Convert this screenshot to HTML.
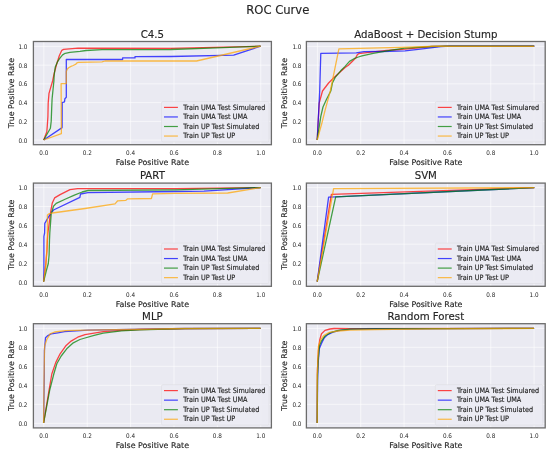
<!DOCTYPE html><html><head><meta charset="utf-8"><title>ROC Curve</title><style>html,body{margin:0;padding:0;background:#fff;}svg{display:block;}text{stroke:#262626;stroke-width:0.15px;}text.t{stroke:none;}</style></head><body>
<svg width="550" height="453" viewBox="0 0 550 453" font-family="'DejaVu Sans', 'Liberation Sans', sans-serif">
<rect x="0" y="0" width="550" height="453" fill="#ffffff"/>
<text x="277.8" y="13.8" font-size="11.6" fill="#262626" text-anchor="middle">ROC Curve</text>
<defs>
<clipPath id="cp0"><rect x="33.4" y="41.5" width="238" height="103.2"/></clipPath>
<clipPath id="cp1"><rect x="306.4" y="41.5" width="238.8" height="103.2"/></clipPath>
<clipPath id="cp2"><rect x="33.4" y="183.1" width="238" height="103.2"/></clipPath>
<clipPath id="cp3"><rect x="306.4" y="183.1" width="238.8" height="103.2"/></clipPath>
<clipPath id="cp4"><rect x="33.4" y="323.7" width="238" height="104.2"/></clipPath>
<clipPath id="cp5"><rect x="306.4" y="323.7" width="238.8" height="104.2"/></clipPath>
</defs>
<g>
<rect x="33.4" y="41.5" width="238" height="103.2" fill="#eaeaf2"/>
<path d="M43.85 41.5V144.7M33.4 140.1H271.4M87.23 41.5V144.7M33.4 121.36H271.4M130.61 41.5V144.7M33.4 102.62H271.4M173.99 41.5V144.7M33.4 83.88H271.4M217.37 41.5V144.7M33.4 65.14H271.4M260.75 41.5V144.7M33.4 46.4H271.4" stroke="#ffffff" stroke-width="1" stroke-opacity="0.6" fill="none"/>
<g clip-path="url(#cp0)" fill="none" stroke-width="1.3" stroke-linejoin="round" stroke-linecap="butt" stroke-opacity="0.72">
<polyline points="43.7,140 46.8,131.8 47.3,125.7 47.9,116.8 48.2,103 49,93.4 52.6,81 54.3,72.8 56.5,64.8 59.2,56 61.8,50.3 63.6,49.4 78,48.2 171,48.3 260.6,46.2" stroke="#ff0000"/>
<polyline points="43.7,140 62.1,127.6 62.2,102.6 64.5,101.8 64.9,98.7 66.3,97.3 66.3,59.5 122.6,59.5 122.6,57.9 135,57.9 135,56.6 171,56.5 233.7,55.2 260.6,46.2" stroke="#0000ff"/>
<polyline points="43.7,140 50.4,128.3 51.2,121.2 51.7,108 52.1,98.7 53.9,81 54.2,75 55.3,66.9 57.3,62.2 59.9,58.2 62.6,54.9 65.2,53.3 69.9,52.3 80,51.3 86,50.5 102,49.7 171,49.5 216.5,47.9 260.6,46.2" stroke="#008000"/>
<polyline points="43.7,140 61.4,133.6 61.1,83.6 66.3,83.6 66.3,71.5 67.2,69.3 68.6,67.7 71,66.4 73.2,65.5 75.9,64.2 76.9,62.9 78.5,62.4 102,61.9 105,61 196.5,61 260.6,46.2" stroke="#ffa500"/>
</g>
<rect x="161.5" y="101.5" width="107.5" height="40.4" fill="#ebebf3" fill-opacity="0.9" stroke="#dadade" stroke-width="0.5" rx="1.5"/>
<line x1="164" x2="177.9" y1="107.4" y2="107.4" stroke="#ff0000" stroke-opacity="0.72" stroke-width="1.2"/>
<text transform="translate(183.3 109.5) scale(1 1.12)" font-size="6.5" fill="#262626">Train UMA Test Simulared</text>
<line x1="164" x2="177.9" y1="116.95" y2="116.95" stroke="#0000ff" stroke-opacity="0.72" stroke-width="1.2"/>
<text transform="translate(183.3 119.05) scale(1 1.12)" font-size="6.5" fill="#262626">Train UMA Test UMA</text>
<line x1="164" x2="177.9" y1="126.5" y2="126.5" stroke="#008000" stroke-opacity="0.72" stroke-width="1.2"/>
<text transform="translate(183.3 128.6) scale(1 1.12)" font-size="6.5" fill="#262626">Train UP Test Simulated</text>
<line x1="164" x2="177.9" y1="136.05" y2="136.05" stroke="#ffa500" stroke-opacity="0.72" stroke-width="1.2"/>
<text transform="translate(183.3 138.15) scale(1 1.12)" font-size="6.5" fill="#262626">Train UP Test UP</text>
<rect x="33.4" y="41.5" width="238" height="103.2" fill="none" stroke="#6c6c6c" stroke-width="1.3"/>
<text class="t" transform="translate(43.85 154.9) scale(1 1.1)" font-size="5.7" fill="#262626" text-anchor="middle">0.0</text>
<text class="t" transform="translate(27.5 142.7) scale(1 1.1)" font-size="5.7" fill="#262626" text-anchor="end">0.0</text>
<text class="t" transform="translate(87.23 154.9) scale(1 1.1)" font-size="5.7" fill="#262626" text-anchor="middle">0.2</text>
<text class="t" transform="translate(27.5 123.96) scale(1 1.1)" font-size="5.7" fill="#262626" text-anchor="end">0.2</text>
<text class="t" transform="translate(130.61 154.9) scale(1 1.1)" font-size="5.7" fill="#262626" text-anchor="middle">0.4</text>
<text class="t" transform="translate(27.5 105.22) scale(1 1.1)" font-size="5.7" fill="#262626" text-anchor="end">0.4</text>
<text class="t" transform="translate(173.99 154.9) scale(1 1.1)" font-size="5.7" fill="#262626" text-anchor="middle">0.6</text>
<text class="t" transform="translate(27.5 86.48) scale(1 1.1)" font-size="5.7" fill="#262626" text-anchor="end">0.6</text>
<text class="t" transform="translate(217.37 154.9) scale(1 1.1)" font-size="5.7" fill="#262626" text-anchor="middle">0.8</text>
<text class="t" transform="translate(27.5 67.74) scale(1 1.1)" font-size="5.7" fill="#262626" text-anchor="end">0.8</text>
<text class="t" transform="translate(260.75 154.9) scale(1 1.1)" font-size="5.7" fill="#262626" text-anchor="middle">1.0</text>
<text class="t" transform="translate(27.5 49) scale(1 1.1)" font-size="5.7" fill="#262626" text-anchor="end">1.0</text>
<text x="152.4" y="165" font-size="7.9" fill="#262626" text-anchor="middle">False Positive Rate</text>
<text x="14.1" y="93.1" font-size="7.9" fill="#262626" text-anchor="middle" transform="rotate(-90 14.1 93.1)">True Positive Rate</text>
<text x="152.4" y="37.5" font-size="10.2" fill="#262626" text-anchor="middle">C4.5</text>
</g>
<g>
<rect x="306.4" y="41.5" width="238.8" height="103.2" fill="#eaeaf2"/>
<path d="M317.4 41.5V144.7M306.4 140.1H545.2M360.74 41.5V144.7M306.4 121.36H545.2M404.08 41.5V144.7M306.4 102.62H545.2M447.42 41.5V144.7M306.4 83.88H545.2M490.76 41.5V144.7M306.4 65.14H545.2M534.1 41.5V144.7M306.4 46.4H545.2" stroke="#ffffff" stroke-width="1" stroke-opacity="0.6" fill="none"/>
<g clip-path="url(#cp1)" fill="none" stroke-width="1.3" stroke-linejoin="round" stroke-linecap="butt" stroke-opacity="0.72">
<polyline points="317.2,140 319.2,103.1 322.5,91 328.6,83 334.1,77.4 339.6,72.5 345.1,67.5 348.4,65.3 351.7,62 355.6,58.1 357.3,54.8 358.6,53.7 373.2,51.9 386.8,50.5 405,49.2 431.8,46.5 445,46.2 534.3,46.2" stroke="#ff0000"/>
<polyline points="317.2,140 319.7,91 320.8,53.3 356.2,52.9 364,51.7 382.3,51.5 405,50.8 418.2,49.4 440.9,46.6 450,46.2 534.3,46.2" stroke="#0000ff"/>
<polyline points="317.2,140 320.8,116.4 323,107 326.3,99.8 330.8,91 332.4,83 335.2,77.4 340.7,70.8 345.1,66.4 349.5,61.4 354,58.7 358.4,57 362,55.9 373.2,53.3 391.4,50.1 405,48.1 431.8,46.5 445,46.2 534.3,46.2" stroke="#008000"/>
<polyline points="317.2,140 321.9,123 325.2,109.8 330.3,91 338.9,48.8 400,47.4 430,46.4 534.1,46.4" stroke="#ffa500"/>
</g>
<rect x="435.3" y="101.5" width="107.5" height="40.4" fill="#ebebf3" fill-opacity="0.9" stroke="#dadade" stroke-width="0.5" rx="1.5"/>
<line x1="437.8" x2="451.7" y1="107.4" y2="107.4" stroke="#ff0000" stroke-opacity="0.72" stroke-width="1.2"/>
<text transform="translate(457.1 109.5) scale(1 1.12)" font-size="6.5" fill="#262626">Train UMA Test Simulared</text>
<line x1="437.8" x2="451.7" y1="116.95" y2="116.95" stroke="#0000ff" stroke-opacity="0.72" stroke-width="1.2"/>
<text transform="translate(457.1 119.05) scale(1 1.12)" font-size="6.5" fill="#262626">Train UMA Test UMA</text>
<line x1="437.8" x2="451.7" y1="126.5" y2="126.5" stroke="#008000" stroke-opacity="0.72" stroke-width="1.2"/>
<text transform="translate(457.1 128.6) scale(1 1.12)" font-size="6.5" fill="#262626">Train UP Test Simulated</text>
<line x1="437.8" x2="451.7" y1="136.05" y2="136.05" stroke="#ffa500" stroke-opacity="0.72" stroke-width="1.2"/>
<text transform="translate(457.1 138.15) scale(1 1.12)" font-size="6.5" fill="#262626">Train UP Test UP</text>
<rect x="306.4" y="41.5" width="238.8" height="103.2" fill="none" stroke="#6c6c6c" stroke-width="1.3"/>
<text class="t" transform="translate(317.4 154.9) scale(1 1.1)" font-size="5.7" fill="#262626" text-anchor="middle">0.0</text>
<text class="t" transform="translate(301.5 142.7) scale(1 1.1)" font-size="5.7" fill="#262626" text-anchor="end">0.0</text>
<text class="t" transform="translate(360.74 154.9) scale(1 1.1)" font-size="5.7" fill="#262626" text-anchor="middle">0.2</text>
<text class="t" transform="translate(301.5 123.96) scale(1 1.1)" font-size="5.7" fill="#262626" text-anchor="end">0.2</text>
<text class="t" transform="translate(404.08 154.9) scale(1 1.1)" font-size="5.7" fill="#262626" text-anchor="middle">0.4</text>
<text class="t" transform="translate(301.5 105.22) scale(1 1.1)" font-size="5.7" fill="#262626" text-anchor="end">0.4</text>
<text class="t" transform="translate(447.42 154.9) scale(1 1.1)" font-size="5.7" fill="#262626" text-anchor="middle">0.6</text>
<text class="t" transform="translate(301.5 86.48) scale(1 1.1)" font-size="5.7" fill="#262626" text-anchor="end">0.6</text>
<text class="t" transform="translate(490.76 154.9) scale(1 1.1)" font-size="5.7" fill="#262626" text-anchor="middle">0.8</text>
<text class="t" transform="translate(301.5 67.74) scale(1 1.1)" font-size="5.7" fill="#262626" text-anchor="end">0.8</text>
<text class="t" transform="translate(534.1 154.9) scale(1 1.1)" font-size="5.7" fill="#262626" text-anchor="middle">1.0</text>
<text class="t" transform="translate(301.5 49) scale(1 1.1)" font-size="5.7" fill="#262626" text-anchor="end">1.0</text>
<text x="425.8" y="165" font-size="7.9" fill="#262626" text-anchor="middle">False Positive Rate</text>
<text x="287.4" y="93.1" font-size="7.9" fill="#262626" text-anchor="middle" transform="rotate(-90 287.4 93.1)">True Positive Rate</text>
<text x="425.8" y="37.5" font-size="10.2" fill="#262626" text-anchor="middle">AdaBoost + Decision Stump</text>
</g>
<g>
<rect x="33.4" y="183.1" width="238" height="103.2" fill="#eaeaf2"/>
<path d="M43.85 183.1V286.3M33.4 281.9H271.4M87.23 183.1V286.3M33.4 263.04H271.4M130.61 183.1V286.3M33.4 244.18H271.4M173.99 183.1V286.3M33.4 225.32H271.4M217.37 183.1V286.3M33.4 206.46H271.4M260.75 183.1V286.3M33.4 187.6H271.4" stroke="#ffffff" stroke-width="1" stroke-opacity="0.6" fill="none"/>
<g clip-path="url(#cp2)" fill="none" stroke-width="1.3" stroke-linejoin="round" stroke-linecap="butt" stroke-opacity="0.72">
<polyline points="43.6,281.6 45.8,264.3 47,249.7 47.4,240 47.9,233 50.7,211.7 52.3,202.9 54.6,197.9 60.1,194.6 70,189.6 77.7,188.7 88,188.6 175,188.6 260.6,187.6" stroke="#ff0000"/>
<polyline points="43.6,281.6 43.9,270 43.9,236.3 44.6,233 44.8,223.3 49,216.1 53.5,210 79.9,197.3 80.5,194 88,192.7 175,191.5 204,191.2 260.6,187.6" stroke="#0000ff"/>
<polyline points="43.6,281.6 46.5,270 48.3,263.5 49.1,255 49.5,240 49.8,233 51.2,213.9 53.5,206.2 56.2,203.4 65.6,199 74.4,195.1 82.2,192 88,190.5 175,189.9 260.6,187.6" stroke="#008000"/>
<polyline points="43.6,281.6 45.8,264.3 46.9,249.7 47.2,240 47.4,233 47.4,215 49,213.9 52.3,213 85,208.5 115,203.9 117.7,200.8 125.9,200.3 127.7,198.8 151.4,198.5 152.6,193.9 175,193.4 227.7,193 260.6,187.6" stroke="#ffa500"/>
</g>
<rect x="161.5" y="243.1" width="107.5" height="40.4" fill="#ebebf3" fill-opacity="0.9" stroke="#dadade" stroke-width="0.5" rx="1.5"/>
<line x1="164" x2="177.9" y1="249" y2="249" stroke="#ff0000" stroke-opacity="0.72" stroke-width="1.2"/>
<text transform="translate(183.3 251.1) scale(1 1.12)" font-size="6.5" fill="#262626">Train UMA Test Simulared</text>
<line x1="164" x2="177.9" y1="258.55" y2="258.55" stroke="#0000ff" stroke-opacity="0.72" stroke-width="1.2"/>
<text transform="translate(183.3 260.65) scale(1 1.12)" font-size="6.5" fill="#262626">Train UMA Test UMA</text>
<line x1="164" x2="177.9" y1="268.1" y2="268.1" stroke="#008000" stroke-opacity="0.72" stroke-width="1.2"/>
<text transform="translate(183.3 270.2) scale(1 1.12)" font-size="6.5" fill="#262626">Train UP Test Simulated</text>
<line x1="164" x2="177.9" y1="277.65" y2="277.65" stroke="#ffa500" stroke-opacity="0.72" stroke-width="1.2"/>
<text transform="translate(183.3 279.75) scale(1 1.12)" font-size="6.5" fill="#262626">Train UP Test UP</text>
<rect x="33.4" y="183.1" width="238" height="103.2" fill="none" stroke="#6c6c6c" stroke-width="1.3"/>
<text class="t" transform="translate(43.85 296.5) scale(1 1.1)" font-size="5.7" fill="#262626" text-anchor="middle">0.0</text>
<text class="t" transform="translate(27.5 284.5) scale(1 1.1)" font-size="5.7" fill="#262626" text-anchor="end">0.0</text>
<text class="t" transform="translate(87.23 296.5) scale(1 1.1)" font-size="5.7" fill="#262626" text-anchor="middle">0.2</text>
<text class="t" transform="translate(27.5 265.64) scale(1 1.1)" font-size="5.7" fill="#262626" text-anchor="end">0.2</text>
<text class="t" transform="translate(130.61 296.5) scale(1 1.1)" font-size="5.7" fill="#262626" text-anchor="middle">0.4</text>
<text class="t" transform="translate(27.5 246.78) scale(1 1.1)" font-size="5.7" fill="#262626" text-anchor="end">0.4</text>
<text class="t" transform="translate(173.99 296.5) scale(1 1.1)" font-size="5.7" fill="#262626" text-anchor="middle">0.6</text>
<text class="t" transform="translate(27.5 227.92) scale(1 1.1)" font-size="5.7" fill="#262626" text-anchor="end">0.6</text>
<text class="t" transform="translate(217.37 296.5) scale(1 1.1)" font-size="5.7" fill="#262626" text-anchor="middle">0.8</text>
<text class="t" transform="translate(27.5 209.06) scale(1 1.1)" font-size="5.7" fill="#262626" text-anchor="end">0.8</text>
<text class="t" transform="translate(260.75 296.5) scale(1 1.1)" font-size="5.7" fill="#262626" text-anchor="middle">1.0</text>
<text class="t" transform="translate(27.5 190.2) scale(1 1.1)" font-size="5.7" fill="#262626" text-anchor="end">1.0</text>
<text x="152.4" y="306.6" font-size="7.9" fill="#262626" text-anchor="middle">False Positive Rate</text>
<text x="14.1" y="234.7" font-size="7.9" fill="#262626" text-anchor="middle" transform="rotate(-90 14.1 234.7)">True Positive Rate</text>
<text x="152.4" y="179.1" font-size="10.2" fill="#262626" text-anchor="middle">PART</text>
</g>
<g>
<rect x="306.4" y="183.1" width="238.8" height="103.2" fill="#eaeaf2"/>
<path d="M317.4 183.1V286.3M306.4 281.9H545.2M360.74 183.1V286.3M306.4 263.04H545.2M404.08 183.1V286.3M306.4 244.18H545.2M447.42 183.1V286.3M306.4 225.32H545.2M490.76 183.1V286.3M306.4 206.46H545.2M534.1 183.1V286.3M306.4 187.6H545.2" stroke="#ffffff" stroke-width="1" stroke-opacity="0.6" fill="none"/>
<g clip-path="url(#cp3)" fill="none" stroke-width="1.3" stroke-linejoin="round" stroke-linecap="butt" stroke-opacity="0.72">
<polyline points="317.2,281.6 331.4,194.3 534.3,187.6" stroke="#ff0000"/>
<polyline points="317.2,281.6 328.6,197.2 335.7,196.9 534.3,187.6" stroke="#0000ff"/>
<polyline points="317.2,281.6 335.7,196.9 534.3,187.6" stroke="#008000"/>
<polyline points="317.2,281.6 333.6,188.7 534.3,187.6" stroke="#ffa500"/>
</g>
<rect x="435.3" y="243.1" width="107.5" height="40.4" fill="#ebebf3" fill-opacity="0.9" stroke="#dadade" stroke-width="0.5" rx="1.5"/>
<line x1="437.8" x2="451.7" y1="249" y2="249" stroke="#ff0000" stroke-opacity="0.72" stroke-width="1.2"/>
<text transform="translate(457.1 251.1) scale(1 1.12)" font-size="6.5" fill="#262626">Train UMA Test Simulared</text>
<line x1="437.8" x2="451.7" y1="258.55" y2="258.55" stroke="#0000ff" stroke-opacity="0.72" stroke-width="1.2"/>
<text transform="translate(457.1 260.65) scale(1 1.12)" font-size="6.5" fill="#262626">Train UMA Test UMA</text>
<line x1="437.8" x2="451.7" y1="268.1" y2="268.1" stroke="#008000" stroke-opacity="0.72" stroke-width="1.2"/>
<text transform="translate(457.1 270.2) scale(1 1.12)" font-size="6.5" fill="#262626">Train UP Test Simulated</text>
<line x1="437.8" x2="451.7" y1="277.65" y2="277.65" stroke="#ffa500" stroke-opacity="0.72" stroke-width="1.2"/>
<text transform="translate(457.1 279.75) scale(1 1.12)" font-size="6.5" fill="#262626">Train UP Test UP</text>
<rect x="306.4" y="183.1" width="238.8" height="103.2" fill="none" stroke="#6c6c6c" stroke-width="1.3"/>
<text class="t" transform="translate(317.4 296.5) scale(1 1.1)" font-size="5.7" fill="#262626" text-anchor="middle">0.0</text>
<text class="t" transform="translate(301.5 284.5) scale(1 1.1)" font-size="5.7" fill="#262626" text-anchor="end">0.0</text>
<text class="t" transform="translate(360.74 296.5) scale(1 1.1)" font-size="5.7" fill="#262626" text-anchor="middle">0.2</text>
<text class="t" transform="translate(301.5 265.64) scale(1 1.1)" font-size="5.7" fill="#262626" text-anchor="end">0.2</text>
<text class="t" transform="translate(404.08 296.5) scale(1 1.1)" font-size="5.7" fill="#262626" text-anchor="middle">0.4</text>
<text class="t" transform="translate(301.5 246.78) scale(1 1.1)" font-size="5.7" fill="#262626" text-anchor="end">0.4</text>
<text class="t" transform="translate(447.42 296.5) scale(1 1.1)" font-size="5.7" fill="#262626" text-anchor="middle">0.6</text>
<text class="t" transform="translate(301.5 227.92) scale(1 1.1)" font-size="5.7" fill="#262626" text-anchor="end">0.6</text>
<text class="t" transform="translate(490.76 296.5) scale(1 1.1)" font-size="5.7" fill="#262626" text-anchor="middle">0.8</text>
<text class="t" transform="translate(301.5 209.06) scale(1 1.1)" font-size="5.7" fill="#262626" text-anchor="end">0.8</text>
<text class="t" transform="translate(534.1 296.5) scale(1 1.1)" font-size="5.7" fill="#262626" text-anchor="middle">1.0</text>
<text class="t" transform="translate(301.5 190.2) scale(1 1.1)" font-size="5.7" fill="#262626" text-anchor="end">1.0</text>
<text x="425.8" y="306.6" font-size="7.9" fill="#262626" text-anchor="middle">False Positive Rate</text>
<text x="287.4" y="234.7" font-size="7.9" fill="#262626" text-anchor="middle" transform="rotate(-90 287.4 234.7)">True Positive Rate</text>
<text x="425.8" y="179.1" font-size="10.2" fill="#262626" text-anchor="middle">SVM</text>
</g>
<g>
<rect x="33.4" y="323.7" width="238" height="104.2" fill="#eaeaf2"/>
<path d="M43.85 323.7V427.9M33.4 423.3H271.4M87.23 323.7V427.9M33.4 404.31H271.4M130.61 323.7V427.9M33.4 385.32H271.4M173.99 323.7V427.9M33.4 366.33H271.4M217.37 323.7V427.9M33.4 347.34H271.4M260.75 323.7V427.9M33.4 328.35H271.4" stroke="#ffffff" stroke-width="1" stroke-opacity="0.6" fill="none"/>
<g clip-path="url(#cp4)" fill="none" stroke-width="1.3" stroke-linejoin="round" stroke-linecap="butt" stroke-opacity="0.72">
<polyline points="43.6,423 49,390.6 51.8,374 55.7,362.6 60.1,353.8 65.6,346.1 71.1,341.1 77.7,337.2 85,334.6 94.1,333.1 103.2,331.6 121.4,330.4 139.5,329.5 185,328.6 260.6,328.3" stroke="#ff0000"/>
<polyline points="43.6,423 44.3,374 44.4,350.5 45.5,337.8 47.9,335.6 51.2,333.9 57.9,332.8 64.5,331.7 88,330.1 185,328.5 260.6,328.3" stroke="#0000ff"/>
<polyline points="43.6,423 49.6,390.6 53.8,374 56.8,363.7 61.2,356 66.7,348.8 73.3,342.8 79.9,339.5 85,338 94.1,335.3 103.2,333.1 121.4,330.9 139.5,329.8 185,328.6 260.6,328.3" stroke="#008000"/>
<polyline points="43.6,423 44.1,374 44.6,346.1 46.8,339.5 50.1,333.9 54.6,332 65.6,330.6 88,330.1 185,328.5 260.6,328.3" stroke="#ffa500"/>
</g>
<rect x="161.5" y="384.7" width="107.5" height="40.4" fill="#ebebf3" fill-opacity="0.9" stroke="#dadade" stroke-width="0.5" rx="1.5"/>
<line x1="164" x2="177.9" y1="390.6" y2="390.6" stroke="#ff0000" stroke-opacity="0.72" stroke-width="1.2"/>
<text transform="translate(183.3 392.7) scale(1 1.12)" font-size="6.5" fill="#262626">Train UMA Test Simulared</text>
<line x1="164" x2="177.9" y1="400.15" y2="400.15" stroke="#0000ff" stroke-opacity="0.72" stroke-width="1.2"/>
<text transform="translate(183.3 402.25) scale(1 1.12)" font-size="6.5" fill="#262626">Train UMA Test UMA</text>
<line x1="164" x2="177.9" y1="409.7" y2="409.7" stroke="#008000" stroke-opacity="0.72" stroke-width="1.2"/>
<text transform="translate(183.3 411.8) scale(1 1.12)" font-size="6.5" fill="#262626">Train UP Test Simulated</text>
<line x1="164" x2="177.9" y1="419.25" y2="419.25" stroke="#ffa500" stroke-opacity="0.72" stroke-width="1.2"/>
<text transform="translate(183.3 421.35) scale(1 1.12)" font-size="6.5" fill="#262626">Train UP Test UP</text>
<rect x="33.4" y="323.7" width="238" height="104.2" fill="none" stroke="#6c6c6c" stroke-width="1.3"/>
<text class="t" transform="translate(43.85 437.7) scale(1 1.1)" font-size="5.7" fill="#262626" text-anchor="middle">0.0</text>
<text class="t" transform="translate(27.5 425.9) scale(1 1.1)" font-size="5.7" fill="#262626" text-anchor="end">0.0</text>
<text class="t" transform="translate(87.23 437.7) scale(1 1.1)" font-size="5.7" fill="#262626" text-anchor="middle">0.2</text>
<text class="t" transform="translate(27.5 406.91) scale(1 1.1)" font-size="5.7" fill="#262626" text-anchor="end">0.2</text>
<text class="t" transform="translate(130.61 437.7) scale(1 1.1)" font-size="5.7" fill="#262626" text-anchor="middle">0.4</text>
<text class="t" transform="translate(27.5 387.92) scale(1 1.1)" font-size="5.7" fill="#262626" text-anchor="end">0.4</text>
<text class="t" transform="translate(173.99 437.7) scale(1 1.1)" font-size="5.7" fill="#262626" text-anchor="middle">0.6</text>
<text class="t" transform="translate(27.5 368.93) scale(1 1.1)" font-size="5.7" fill="#262626" text-anchor="end">0.6</text>
<text class="t" transform="translate(217.37 437.7) scale(1 1.1)" font-size="5.7" fill="#262626" text-anchor="middle">0.8</text>
<text class="t" transform="translate(27.5 349.94) scale(1 1.1)" font-size="5.7" fill="#262626" text-anchor="end">0.8</text>
<text class="t" transform="translate(260.75 437.7) scale(1 1.1)" font-size="5.7" fill="#262626" text-anchor="middle">1.0</text>
<text class="t" transform="translate(27.5 330.95) scale(1 1.1)" font-size="5.7" fill="#262626" text-anchor="end">1.0</text>
<text x="152.4" y="448.2" font-size="7.9" fill="#262626" text-anchor="middle">False Positive Rate</text>
<text x="14.1" y="375.8" font-size="7.9" fill="#262626" text-anchor="middle" transform="rotate(-90 14.1 375.8)">True Positive Rate</text>
<text x="152.4" y="319.7" font-size="10.2" fill="#262626" text-anchor="middle">MLP</text>
</g>
<g>
<rect x="306.4" y="323.7" width="238.8" height="104.2" fill="#eaeaf2"/>
<path d="M317.4 323.7V427.9M306.4 423.3H545.2M360.74 323.7V427.9M306.4 404.31H545.2M404.08 323.7V427.9M306.4 385.32H545.2M447.42 323.7V427.9M306.4 366.33H545.2M490.76 323.7V427.9M306.4 347.34H545.2M534.1 323.7V427.9M306.4 328.35H545.2" stroke="#ffffff" stroke-width="1" stroke-opacity="0.6" fill="none"/>
<g clip-path="url(#cp5)" fill="none" stroke-width="1.3" stroke-linejoin="round" stroke-linecap="butt" stroke-opacity="0.72">
<polyline points="317.2,423 317.4,370 318.4,350.5 319.7,339.9 321.5,333.7 325,330.4 330,329 334,328.5 350,328.6 534.1,328.35" stroke="#ff0000"/>
<polyline points="317.2,423 317.6,380 318.1,364 319.3,348.7 321.5,343.4 324.1,338.1 327.7,334.6 333,332.2 340,330.4 350,329.3 375,328.8 534.1,328.35" stroke="#0000ff"/>
<polyline points="317.2,423 317.5,375 318.2,360 319.3,346.1 321.5,340.8 325,336 330.3,332.6 338.3,330.3 350,329.2 375,328.8 534.1,328.35" stroke="#008000"/>
<polyline points="317.2,423 317.3,375 318.4,346.1 320.6,339.9 324.1,335.2 329.4,332.4 338.3,331 350,330.2 375,329.7 430,328.9 534.1,328.35" stroke="#ffa500"/>
</g>
<rect x="435.3" y="384.7" width="107.5" height="40.4" fill="#ebebf3" fill-opacity="0.9" stroke="#dadade" stroke-width="0.5" rx="1.5"/>
<line x1="437.8" x2="451.7" y1="390.6" y2="390.6" stroke="#ff0000" stroke-opacity="0.72" stroke-width="1.2"/>
<text transform="translate(457.1 392.7) scale(1 1.12)" font-size="6.5" fill="#262626">Train UMA Test Simulared</text>
<line x1="437.8" x2="451.7" y1="400.15" y2="400.15" stroke="#0000ff" stroke-opacity="0.72" stroke-width="1.2"/>
<text transform="translate(457.1 402.25) scale(1 1.12)" font-size="6.5" fill="#262626">Train UMA Test UMA</text>
<line x1="437.8" x2="451.7" y1="409.7" y2="409.7" stroke="#008000" stroke-opacity="0.72" stroke-width="1.2"/>
<text transform="translate(457.1 411.8) scale(1 1.12)" font-size="6.5" fill="#262626">Train UP Test Simulated</text>
<line x1="437.8" x2="451.7" y1="419.25" y2="419.25" stroke="#ffa500" stroke-opacity="0.72" stroke-width="1.2"/>
<text transform="translate(457.1 421.35) scale(1 1.12)" font-size="6.5" fill="#262626">Train UP Test UP</text>
<rect x="306.4" y="323.7" width="238.8" height="104.2" fill="none" stroke="#6c6c6c" stroke-width="1.3"/>
<text class="t" transform="translate(317.4 437.7) scale(1 1.1)" font-size="5.7" fill="#262626" text-anchor="middle">0.0</text>
<text class="t" transform="translate(301.5 425.9) scale(1 1.1)" font-size="5.7" fill="#262626" text-anchor="end">0.0</text>
<text class="t" transform="translate(360.74 437.7) scale(1 1.1)" font-size="5.7" fill="#262626" text-anchor="middle">0.2</text>
<text class="t" transform="translate(301.5 406.91) scale(1 1.1)" font-size="5.7" fill="#262626" text-anchor="end">0.2</text>
<text class="t" transform="translate(404.08 437.7) scale(1 1.1)" font-size="5.7" fill="#262626" text-anchor="middle">0.4</text>
<text class="t" transform="translate(301.5 387.92) scale(1 1.1)" font-size="5.7" fill="#262626" text-anchor="end">0.4</text>
<text class="t" transform="translate(447.42 437.7) scale(1 1.1)" font-size="5.7" fill="#262626" text-anchor="middle">0.6</text>
<text class="t" transform="translate(301.5 368.93) scale(1 1.1)" font-size="5.7" fill="#262626" text-anchor="end">0.6</text>
<text class="t" transform="translate(490.76 437.7) scale(1 1.1)" font-size="5.7" fill="#262626" text-anchor="middle">0.8</text>
<text class="t" transform="translate(301.5 349.94) scale(1 1.1)" font-size="5.7" fill="#262626" text-anchor="end">0.8</text>
<text class="t" transform="translate(534.1 437.7) scale(1 1.1)" font-size="5.7" fill="#262626" text-anchor="middle">1.0</text>
<text class="t" transform="translate(301.5 330.95) scale(1 1.1)" font-size="5.7" fill="#262626" text-anchor="end">1.0</text>
<text x="425.8" y="448.2" font-size="7.9" fill="#262626" text-anchor="middle">False Positive Rate</text>
<text x="287.4" y="375.8" font-size="7.9" fill="#262626" text-anchor="middle" transform="rotate(-90 287.4 375.8)">True Positive Rate</text>
<text x="425.8" y="319.7" font-size="10.2" fill="#262626" text-anchor="middle">Random Forest</text>
</g>
</svg></body></html>
